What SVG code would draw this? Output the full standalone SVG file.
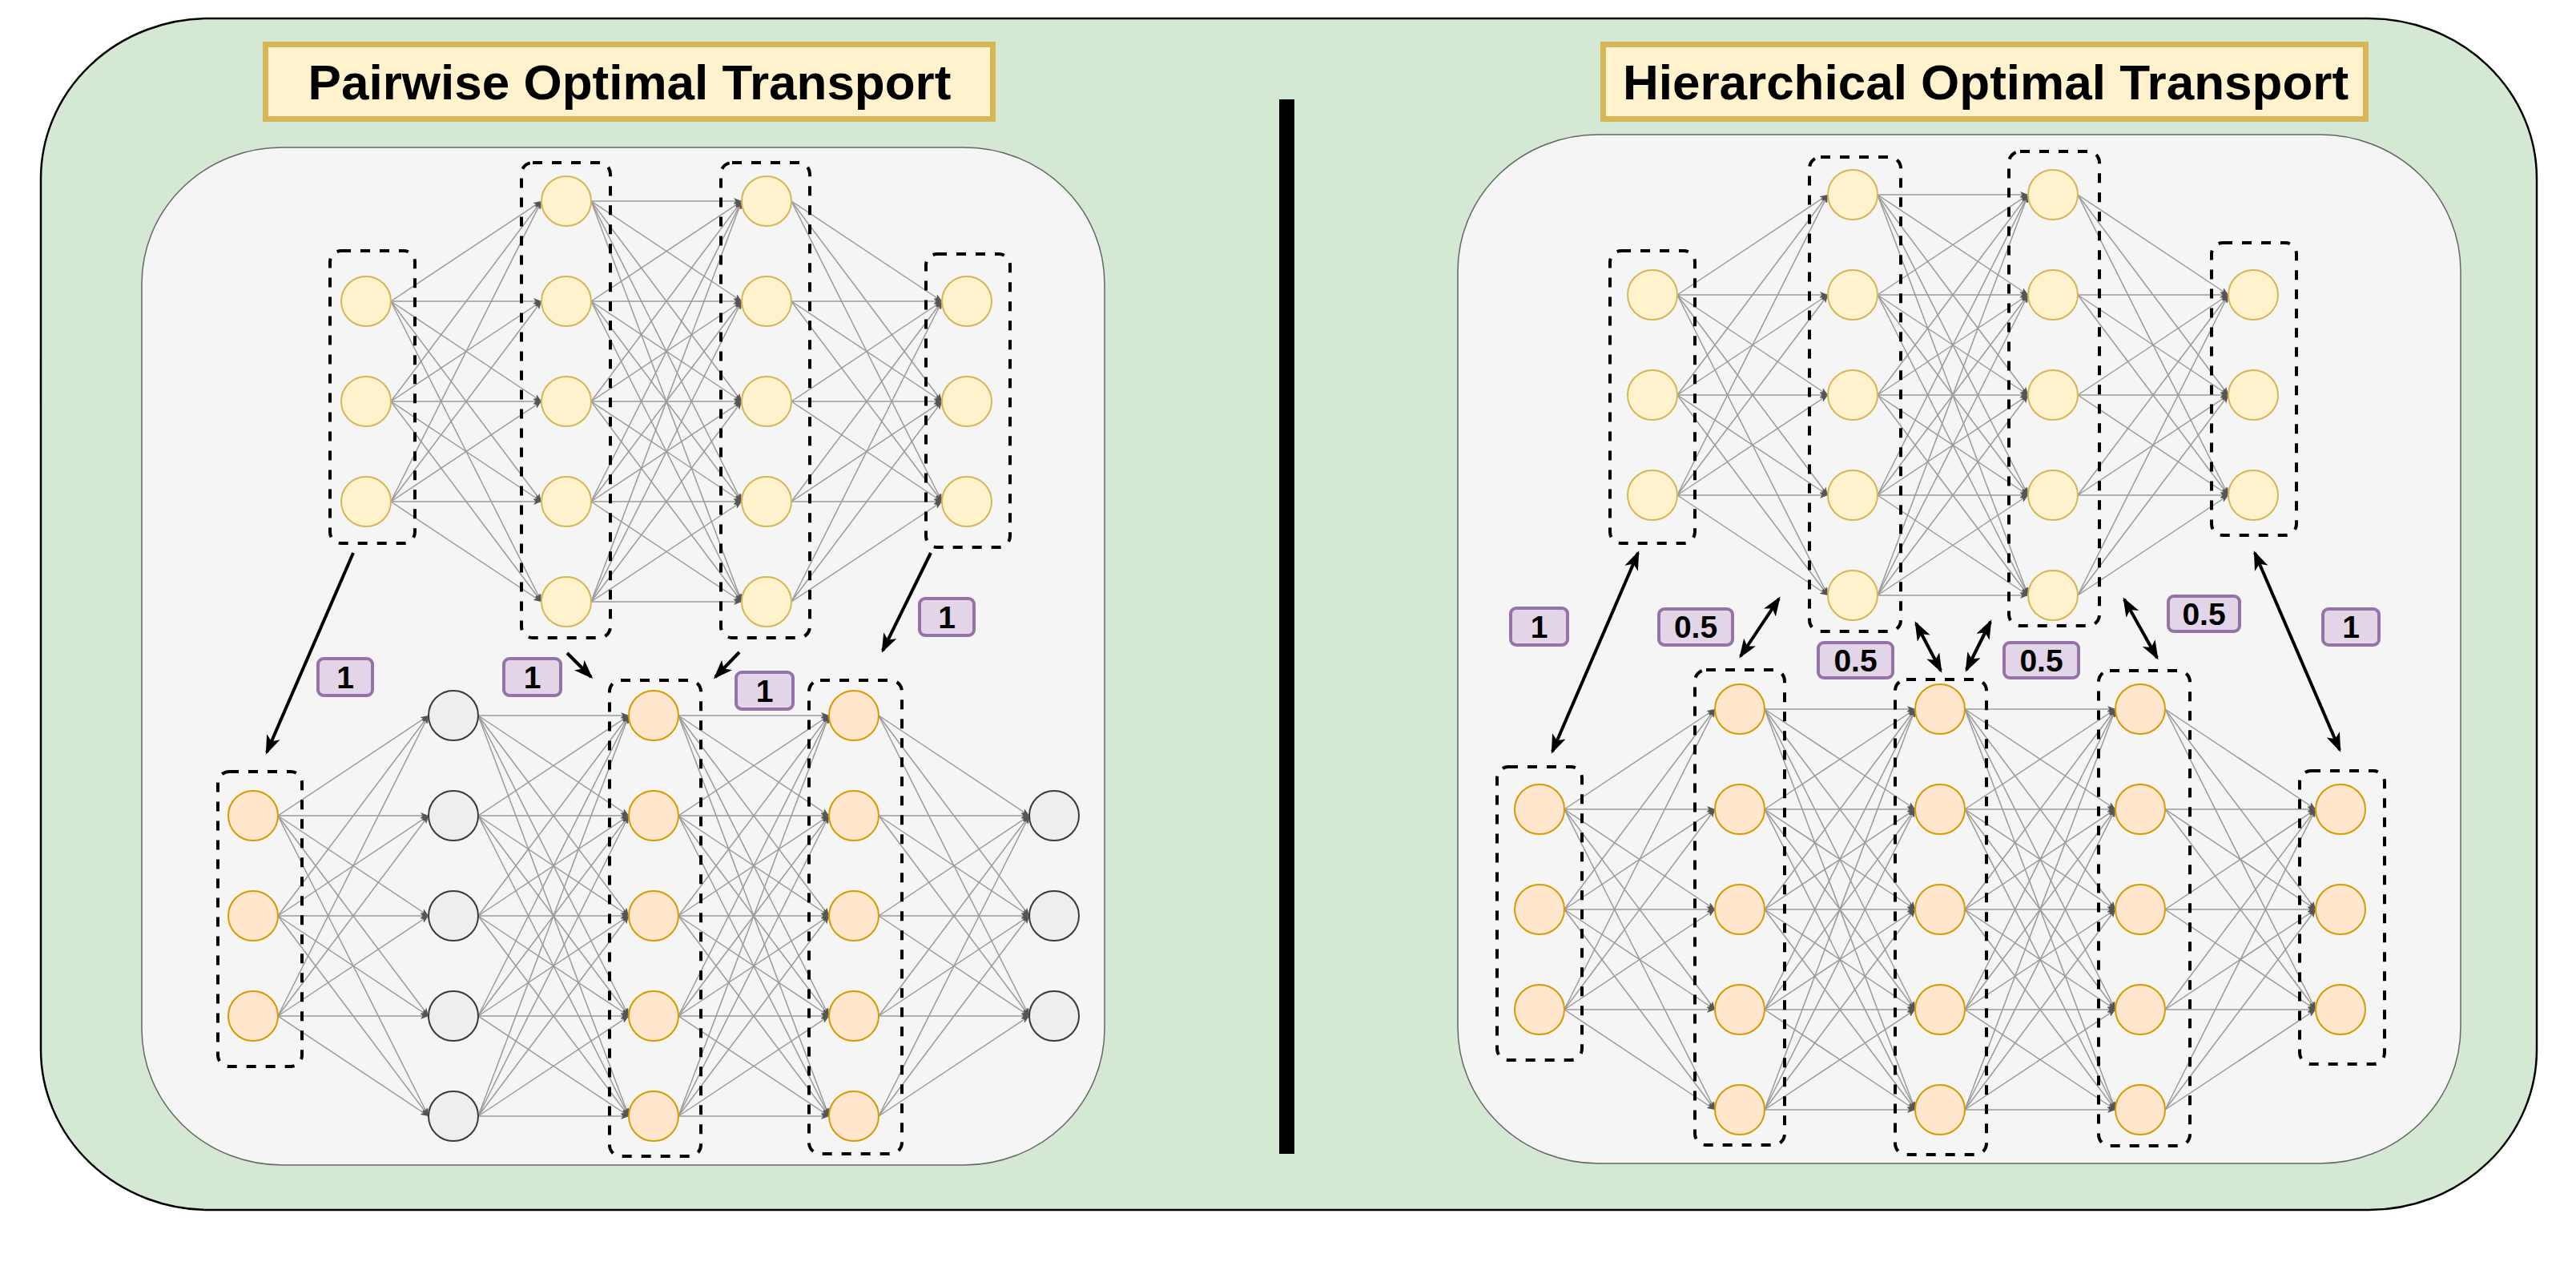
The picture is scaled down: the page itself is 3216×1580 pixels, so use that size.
<svg xmlns="http://www.w3.org/2000/svg" xmlns:xlink="http://www.w3.org/1999/xlink" width="3216" height="1580" viewBox="0 0 3216 1580">
<style>
.eb line{stroke:#9a9a9a;stroke-width:1.5;marker-end:url(#eh)}
.ny circle{fill:#fff2cc;stroke:#d6b656;stroke-width:2}
.no circle{fill:#ffe6cc;stroke:#d79b00;stroke-width:2}
.ng circle{fill:#eeeeee;stroke:#36393d;stroke-width:2}
.grp rect{fill:none;stroke:#000;stroke-width:4;stroke-dasharray:12 12}
.ar{stroke:#000;stroke-width:4;fill:none;marker-end:url(#ah)}
.ar2{stroke:#000;stroke-width:4;fill:none;marker-end:url(#ah);marker-start:url(#ah)}
.lb rect{fill:#e1d5e7;stroke:#9673a6;stroke-width:4}
.lb text{font-family:"Liberation Sans",Arial,sans-serif;font-weight:bold;font-size:39px;fill:#000;text-anchor:middle}
.tt rect{fill:#fff2cc;stroke:#d6b656;stroke-width:7}
.tt text{font-family:"Liberation Sans",Arial,sans-serif;font-weight:bold;font-size:62px;fill:#000;text-anchor:middle}
</style>
<defs>
<marker id="eh" markerWidth="10" markerHeight="8" refX="10" refY="4" orient="auto" markerUnits="userSpaceOnUse"><path d="M0,0 L10,4 L0,8 L2.5,4 z" fill="#555"/></marker>
<marker id="ah" markerWidth="24" markerHeight="18" refX="21" refY="9" orient="auto-start-reverse" markerUnits="userSpaceOnUse"><path d="M0,0 L24,9 L0,18 L6,9 z" fill="#000"/></marker>
<g id="e35" class="eb" stroke="#9a9a9a" stroke-width="1.5" marker-end="url(#eh)">
<line x1="31" y1="125" x2="219" y2="0"/><line x1="31" y1="125" x2="219" y2="125"/><line x1="31" y1="125" x2="219" y2="250"/><line x1="31" y1="125" x2="219" y2="375"/><line x1="31" y1="125" x2="219" y2="500"/>
<line x1="31" y1="250" x2="219" y2="0"/><line x1="31" y1="250" x2="219" y2="125"/><line x1="31" y1="250" x2="219" y2="250"/><line x1="31" y1="250" x2="219" y2="375"/><line x1="31" y1="250" x2="219" y2="500"/>
<line x1="31" y1="375" x2="219" y2="0"/><line x1="31" y1="375" x2="219" y2="125"/><line x1="31" y1="375" x2="219" y2="250"/><line x1="31" y1="375" x2="219" y2="375"/><line x1="31" y1="375" x2="219" y2="500"/>
</g>
<g id="e55" class="eb" stroke="#9a9a9a" stroke-width="1.5" marker-end="url(#eh)">
<line x1="31" y1="0" x2="219" y2="0"/><line x1="31" y1="0" x2="219" y2="125"/><line x1="31" y1="0" x2="219" y2="250"/><line x1="31" y1="0" x2="219" y2="375"/><line x1="31" y1="0" x2="219" y2="500"/>
<line x1="31" y1="125" x2="219" y2="0"/><line x1="31" y1="125" x2="219" y2="125"/><line x1="31" y1="125" x2="219" y2="250"/><line x1="31" y1="125" x2="219" y2="375"/><line x1="31" y1="125" x2="219" y2="500"/>
<line x1="31" y1="250" x2="219" y2="0"/><line x1="31" y1="250" x2="219" y2="125"/><line x1="31" y1="250" x2="219" y2="250"/><line x1="31" y1="250" x2="219" y2="375"/><line x1="31" y1="250" x2="219" y2="500"/>
<line x1="31" y1="375" x2="219" y2="0"/><line x1="31" y1="375" x2="219" y2="125"/><line x1="31" y1="375" x2="219" y2="250"/><line x1="31" y1="375" x2="219" y2="375"/><line x1="31" y1="375" x2="219" y2="500"/>
<line x1="31" y1="500" x2="219" y2="0"/><line x1="31" y1="500" x2="219" y2="125"/><line x1="31" y1="500" x2="219" y2="250"/><line x1="31" y1="500" x2="219" y2="375"/><line x1="31" y1="500" x2="219" y2="500"/>
</g>
<g id="e53" class="eb" stroke="#9a9a9a" stroke-width="1.5" marker-end="url(#eh)">
<line x1="31" y1="0" x2="219" y2="125"/><line x1="31" y1="0" x2="219" y2="250"/><line x1="31" y1="0" x2="219" y2="375"/>
<line x1="31" y1="125" x2="219" y2="125"/><line x1="31" y1="125" x2="219" y2="250"/><line x1="31" y1="125" x2="219" y2="375"/>
<line x1="31" y1="250" x2="219" y2="125"/><line x1="31" y1="250" x2="219" y2="250"/><line x1="31" y1="250" x2="219" y2="375"/>
<line x1="31" y1="375" x2="219" y2="125"/><line x1="31" y1="375" x2="219" y2="250"/><line x1="31" y1="375" x2="219" y2="375"/>
<line x1="31" y1="500" x2="219" y2="125"/><line x1="31" y1="500" x2="219" y2="250"/><line x1="31" y1="500" x2="219" y2="375"/>
</g>
</defs>

<g id="background">
<rect x="51" y="23" width="3116" height="1487" rx="210" ry="200" fill="#d5e8d4" stroke="#000" stroke-width="2.5"/>
<rect id="divider" x="1597" y="124" width="19" height="1316" fill="#000"/>
<rect id="panel-left" x="177" y="184" width="1202" height="1270" rx="175" ry="170" fill="#f5f5f5" stroke="#666" stroke-width="1.5"/>
<rect id="panel-right" x="1820" y="168" width="1252" height="1284" rx="175" ry="170" fill="#f5f5f5" stroke="#666" stroke-width="1.5"/>
</g>

<g id="title-left" class="tt"><rect x="331.5" y="55.5" width="908" height="93"/><text x="786" y="124">Pairwise Optimal Transport</text></g>
<g id="title-right" class="tt"><rect x="2001.5" y="55.5" width="952" height="93"/><text x="2479" y="124">Hierarchical Optimal Transport</text></g>

<g id="connectors">
<use href="#e35" x="457" y="251"/>
<use href="#e55" x="707" y="251"/>
<use href="#e53" x="957" y="251"/>
<use href="#e35" x="316" y="893"/>
<use href="#e55" x="566" y="893"/>
<use href="#e55" x="816" y="893"/>
<use href="#e53" x="1066" y="893"/>
<use href="#e35" x="2063" y="243"/>
<use href="#e55" x="2313" y="243"/>
<use href="#e53" x="2563" y="243"/>
<use href="#e35" x="1922" y="885"/>
<use href="#e55" x="2172" y="885"/>
<use href="#e55" x="2422" y="885"/>
<use href="#e53" x="2672" y="885"/>
</g>

<g id="groups" class="grp">
<g id="grp-lt1"><rect x="412" y="313" width="106" height="365" rx="14"/></g>
<g id="grp-lt2"><rect x="651" y="203" width="111" height="593" rx="14"/></g>
<g id="grp-lt3"><rect x="900" y="203" width="111" height="593" rx="14"/></g>
<g id="grp-lt4"><rect x="1156" y="317" width="105" height="366" rx="14"/></g>
<g id="grp-lbA"><rect x="272" y="963" width="105" height="368" rx="14"/></g>
<g id="grp-lbC"><rect x="761" y="849" width="114" height="594" rx="14"/></g>
<g id="grp-lbD"><rect x="1010" y="849" width="116" height="591" rx="14"/></g>
<g id="grp-rt1"><rect x="2010" y="313" width="106" height="365" rx="14"/></g>
<g id="grp-rt2"><rect x="2259" y="196" width="114" height="592" rx="14"/></g>
<g id="grp-rt3"><rect x="2508" y="189" width="113" height="592" rx="14"/></g>
<g id="grp-rt4"><rect x="2761" y="303" width="106" height="365" rx="14"/></g>
<g id="grp-rbA"><rect x="1869" y="957" width="106" height="366" rx="14"/></g>
<g id="grp-rbB"><rect x="2116" y="836" width="112" height="593" rx="14"/></g>
<g id="grp-rbC"><rect x="2366" y="848" width="114" height="593" rx="14"/></g>
<g id="grp-rbD"><rect x="2620" y="837" width="114" height="593" rx="14"/></g>
<g id="grp-rbE"><rect x="2871" y="962" width="106" height="366" rx="14"/></g>
</g>

<g id="nodes-left-top" class="ny">
<g id="lt-1-1"><circle cx="457" cy="376" r="31"/></g>
<g id="lt-1-2"><circle cx="457" cy="501" r="31"/></g>
<g id="lt-1-3"><circle cx="457" cy="626" r="31"/></g>
<g id="lt-2-1"><circle cx="707" cy="251" r="31"/></g>
<g id="lt-2-2"><circle cx="707" cy="376" r="31"/></g>
<g id="lt-2-3"><circle cx="707" cy="501" r="31"/></g>
<g id="lt-2-4"><circle cx="707" cy="626" r="31"/></g>
<g id="lt-2-5"><circle cx="707" cy="751" r="31"/></g>
<g id="lt-3-1"><circle cx="957" cy="251" r="31"/></g>
<g id="lt-3-2"><circle cx="957" cy="376" r="31"/></g>
<g id="lt-3-3"><circle cx="957" cy="501" r="31"/></g>
<g id="lt-3-4"><circle cx="957" cy="626" r="31"/></g>
<g id="lt-3-5"><circle cx="957" cy="751" r="31"/></g>
<g id="lt-4-1"><circle cx="1207" cy="376" r="31"/></g>
<g id="lt-4-2"><circle cx="1207" cy="501" r="31"/></g>
<g id="lt-4-3"><circle cx="1207" cy="626" r="31"/></g>
</g>

<g id="nodes-left-bottom">
<g id="lb-1-1" class="no"><circle cx="316" cy="1018" r="31"/></g>
<g id="lb-1-2" class="no"><circle cx="316" cy="1143" r="31"/></g>
<g id="lb-1-3" class="no"><circle cx="316" cy="1268" r="31"/></g>
<g id="lb-2-1" class="ng"><circle cx="566" cy="893" r="31"/></g>
<g id="lb-2-2" class="ng"><circle cx="566" cy="1018" r="31"/></g>
<g id="lb-2-3" class="ng"><circle cx="566" cy="1143" r="31"/></g>
<g id="lb-2-4" class="ng"><circle cx="566" cy="1268" r="31"/></g>
<g id="lb-2-5" class="ng"><circle cx="566" cy="1393" r="31"/></g>
<g id="lb-3-1" class="no"><circle cx="816" cy="893" r="31"/></g>
<g id="lb-3-2" class="no"><circle cx="816" cy="1018" r="31"/></g>
<g id="lb-3-3" class="no"><circle cx="816" cy="1143" r="31"/></g>
<g id="lb-3-4" class="no"><circle cx="816" cy="1268" r="31"/></g>
<g id="lb-3-5" class="no"><circle cx="816" cy="1393" r="31"/></g>
<g id="lb-4-1" class="no"><circle cx="1066" cy="893" r="31"/></g>
<g id="lb-4-2" class="no"><circle cx="1066" cy="1018" r="31"/></g>
<g id="lb-4-3" class="no"><circle cx="1066" cy="1143" r="31"/></g>
<g id="lb-4-4" class="no"><circle cx="1066" cy="1268" r="31"/></g>
<g id="lb-4-5" class="no"><circle cx="1066" cy="1393" r="31"/></g>
<g id="lb-5-1" class="ng"><circle cx="1316" cy="1018" r="31"/></g>
<g id="lb-5-2" class="ng"><circle cx="1316" cy="1143" r="31"/></g>
<g id="lb-5-3" class="ng"><circle cx="1316" cy="1268" r="31"/></g>
</g>

<g id="nodes-right-top" class="ny">
<g id="rt-1-1"><circle cx="2063" cy="368" r="31"/></g>
<g id="rt-1-2"><circle cx="2063" cy="493" r="31"/></g>
<g id="rt-1-3"><circle cx="2063" cy="618" r="31"/></g>
<g id="rt-2-1"><circle cx="2313" cy="243" r="31"/></g>
<g id="rt-2-2"><circle cx="2313" cy="368" r="31"/></g>
<g id="rt-2-3"><circle cx="2313" cy="493" r="31"/></g>
<g id="rt-2-4"><circle cx="2313" cy="618" r="31"/></g>
<g id="rt-2-5"><circle cx="2313" cy="743" r="31"/></g>
<g id="rt-3-1"><circle cx="2563" cy="243" r="31"/></g>
<g id="rt-3-2"><circle cx="2563" cy="368" r="31"/></g>
<g id="rt-3-3"><circle cx="2563" cy="493" r="31"/></g>
<g id="rt-3-4"><circle cx="2563" cy="618" r="31"/></g>
<g id="rt-3-5"><circle cx="2563" cy="743" r="31"/></g>
<g id="rt-4-1"><circle cx="2813" cy="368" r="31"/></g>
<g id="rt-4-2"><circle cx="2813" cy="493" r="31"/></g>
<g id="rt-4-3"><circle cx="2813" cy="618" r="31"/></g>
</g>

<g id="nodes-right-bottom" class="no">
<g id="rb-1-1"><circle cx="1922" cy="1010" r="31"/></g>
<g id="rb-1-2"><circle cx="1922" cy="1135" r="31"/></g>
<g id="rb-1-3"><circle cx="1922" cy="1260" r="31"/></g>
<g id="rb-2-1"><circle cx="2172" cy="885" r="31"/></g>
<g id="rb-2-2"><circle cx="2172" cy="1010" r="31"/></g>
<g id="rb-2-3"><circle cx="2172" cy="1135" r="31"/></g>
<g id="rb-2-4"><circle cx="2172" cy="1260" r="31"/></g>
<g id="rb-2-5"><circle cx="2172" cy="1385" r="31"/></g>
<g id="rb-3-1"><circle cx="2422" cy="885" r="31"/></g>
<g id="rb-3-2"><circle cx="2422" cy="1010" r="31"/></g>
<g id="rb-3-3"><circle cx="2422" cy="1135" r="31"/></g>
<g id="rb-3-4"><circle cx="2422" cy="1260" r="31"/></g>
<g id="rb-3-5"><circle cx="2422" cy="1385" r="31"/></g>
<g id="rb-4-1"><circle cx="2672" cy="885" r="31"/></g>
<g id="rb-4-2"><circle cx="2672" cy="1010" r="31"/></g>
<g id="rb-4-3"><circle cx="2672" cy="1135" r="31"/></g>
<g id="rb-4-4"><circle cx="2672" cy="1260" r="31"/></g>
<g id="rb-4-5"><circle cx="2672" cy="1385" r="31"/></g>
<g id="rb-5-1"><circle cx="2922" cy="1010" r="31"/></g>
<g id="rb-5-2"><circle cx="2922" cy="1135" r="31"/></g>
<g id="rb-5-3"><circle cx="2922" cy="1260" r="31"/></g>
</g>

<g id="transport-arrows">
<line class="ar" x1="441" y1="690" x2="333" y2="939"/>
<line class="ar" x1="708" y1="815" x2="738" y2="845"/>
<line class="ar" x1="923" y1="814" x2="893" y2="845"/>
<line class="ar" x1="1162" y1="690" x2="1102" y2="812"/>
<line class="ar2" x1="2045" y1="690" x2="1938" y2="938"/>
<line class="ar2" x1="2221" y1="747" x2="2173" y2="819"/>
<line class="ar2" x1="2392" y1="778" x2="2423" y2="837"/>
<line class="ar2" x1="2485" y1="776" x2="2455" y2="836"/>
<line class="ar2" x1="2652" y1="748" x2="2693" y2="821"/>
<line class="ar2" x1="2815" y1="690" x2="2921" y2="936"/>
</g>

<g id="labels" class="lb">
<g id="lbl-l1"><rect x="397" y="822" width="68" height="46" rx="7"/><text x="431" y="859">1</text></g>
<g id="lbl-l2"><rect x="629" y="822" width="71" height="46" rx="7"/><text x="664.5" y="859">1</text></g>
<g id="lbl-l3"><rect x="919" y="839" width="71" height="46" rx="7"/><text x="954.5" y="876">1</text></g>
<g id="lbl-l4"><rect x="1148" y="747" width="68" height="46" rx="7"/><text x="1182" y="784">1</text></g>
<g id="lbl-r1"><rect x="1886" y="759" width="71" height="46" rx="7"/><text x="1921.5" y="796">1</text></g>
<g id="lbl-r2"><rect x="2071" y="760" width="92" height="45" rx="7"/><text x="2117" y="796">0.5</text></g>
<g id="lbl-r3"><rect x="2270" y="802" width="93" height="44" rx="7"/><text x="2316.5" y="838">0.5</text></g>
<g id="lbl-r4"><rect x="2502" y="802" width="93" height="44" rx="7"/><text x="2548.5" y="838">0.5</text></g>
<g id="lbl-r5"><rect x="2707" y="744" width="89" height="44" rx="7"/><text x="2751.5" y="780">0.5</text></g>
<g id="lbl-r6"><rect x="2900" y="760" width="70" height="45" rx="7"/><text x="2935" y="796">1</text></g>
</g>
</svg>
